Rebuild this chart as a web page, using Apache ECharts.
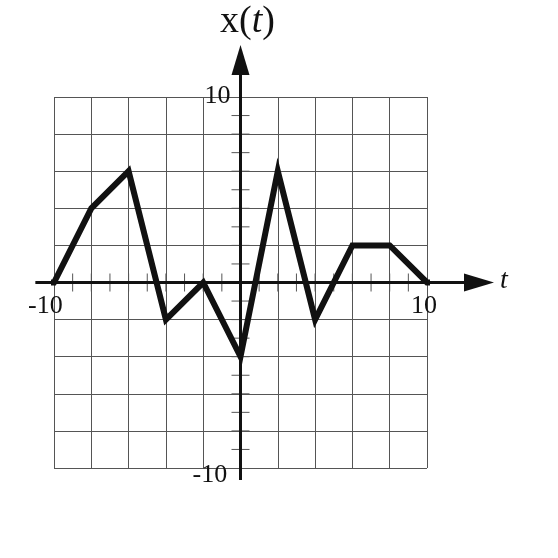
<!DOCTYPE html>
<html><head><meta charset="utf-8">
<script src="https://cdn.jsdelivr.net/npm/echarts@6/dist/echarts.min.js"></script>
<style>html,body{margin:0;padding:0;background:#fff}#c{width:558px;height:558px}</style>
</head><body><div id="c"></div>
<script>
const tValues = [-11.1, -10, -8, -6, -4, -2, 0, 2, 4, 6, 8, 10, 11.2];
const xValues = [0, 0, 4, 6, -2, 0, -4, 6, -2, 2, 2, 0, 0];
const tickLabelsX = ['-10', '10'];
const tickLabelsY = ['10', '-10'];

const chart = echarts.init(document.getElementById('c'));
const serif = '"Liberation Serif","DejaVu Serif",serif';
chart.setOption({
  animation: false,
  grid: {left: 54, right: 131, top: 97, bottom: 90},
  xAxis: {type: 'value', min: -10, max: 10, interval: 2,
    axisLine: {show: false}, axisTick: {show: false}, axisLabel: {show: false},
    splitLine: {show: true, lineStyle: {color: '#555', width: 1}}},
  yAxis: {type: 'value', min: -10, max: 10, interval: 2,
    axisLine: {show: false}, axisTick: {show: false}, axisLabel: {show: false},
    splitLine: {show: true, lineStyle: {color: '#555', width: 1}}},
  series: [{type: 'line', clip: false, symbol: 'none', z: 5,
    data: tValues.map((t, i) => [t, xValues[i]]),
    lineStyle: {color: '#111', width: 6, cap: 'round', join: 'miter'}}]
});

const P = (x, y) => chart.convertToPixel({gridIndex: 0}, [x, y]);
const o = P(0, 0);
const g = [];
const ls = {stroke: '#111', lineWidth: 3};
// x axis
g.push({type: 'line', shape: {x1: P(-11, 0)[0], y1: o[1], x2: 470, y2: o[1]}, style: ls, z: 4});
g.push({type: 'polygon', shape: {points: [[464, o[1] - 9], [494, o[1]], [464, o[1] + 9]]}, style: {fill: '#111'}, z: 4});
// y axis
g.push({type: 'line', shape: {x1: o[0], y1: 480, x2: o[0], y2: 70}, style: ls, z: 4});
g.push({type: 'polygon', shape: {points: [[o[0] - 9, 75], [o[0], 45], [o[0] + 9, 75]]}, style: {fill: '#111'}, z: 4});
// small ticks
for (let k = -9; k <= 9; k++) {
  if (k === 0) continue;
  const px = P(k, 0)[0], py = P(0, k)[1];
  g.push({type: 'line', shape: {x1: px, y1: o[1] - 9, x2: px, y2: o[1] + 9}, style: {stroke: '#555', lineWidth: 1}, z: 3});
  g.push({type: 'line', shape: {x1: o[0] - 9, y1: py, x2: o[0] + 9, y2: py}, style: {stroke: '#555', lineWidth: 1}, z: 3});
}
const txt = (s, x, y, size, extra) => g.push({type: 'text', x: x, y: y, z: 6,
  style: Object.assign({text: s, font: size + 'px ' + serif, fill: '#111', backgroundColor: 'transparent'}, extra || {})});
const pl = P(-10, 0), pr = P(10, 0), pt = P(0, 10), pb = P(0, -10);
txt(tickLabelsX[0], pl[0] - 26, o[1] + 11, 26);
txt(tickLabelsX[1], pr[0] - 16, o[1] + 11, 26);
txt(tickLabelsY[0], pt[0] - 36, pt[1] - 14, 26);
txt(tickLabelsY[1], pb[0] - 48, pb[1] - 6, 26);
txt('t', 500, o[1] - 16, 28, {font: 'italic 28px ' + serif});
g.push({type: 'text', x: 220, y: 3, z: 6, style: {rich: {a: {font: '38px ' + serif, fill: '#111'}, b: {font: 'italic 38px ' + serif, fill: '#111'}}, text: '{a|x(}{b|t}{a|)}'}});
chart.setOption({graphic: g});
</script></body></html>
